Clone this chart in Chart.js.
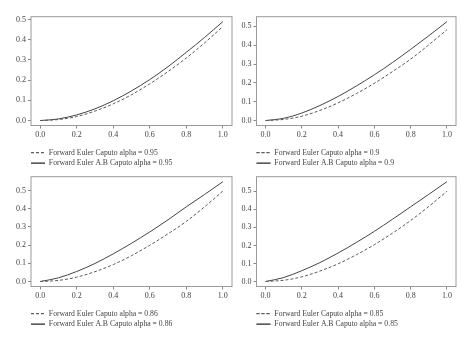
<!DOCTYPE html>
<html>
<head>
<meta charset="utf-8">
<script src="https://cdn.jsdelivr.net/npm/chart.js@4.4.1/dist/chart.umd.min.js"></script>
<style>
    html, body { margin: 0; padding: 0; background: #fff; }
    body { width: 474px; height: 345px; position: relative; overflow: hidden; }
    canvas { position: absolute; }
</style>
</head>
<body>
<canvas id="c1"></canvas>
<canvas id="c2"></canvas>
<canvas id="c3"></canvas>
<canvas id="c4"></canvas>
<script>
// Data (time steps 0.0 .. 1.0)
const xValues = [0.0, 0.1, 0.2, 0.3, 0.4, 0.5, 0.6, 0.7, 0.8, 0.9, 1.0];
const xTicks = [0.0, 0.2, 0.4, 0.6, 0.8, 1.0];
const yTicks = [0.0, 0.1, 0.2, 0.3, 0.4, 0.5];
const alphaLabels = ['0.95', '0.9', '0.86', '0.85'];

// Forward Euler Caputo (dashed)
const caputo95 = [0, 0.005, 0.020, 0.047, 0.083, 0.128, 0.182, 0.243, 0.310, 0.385, 0.466];
const caputo90 = [0, 0.006, 0.023, 0.054, 0.094, 0.143, 0.198, 0.260, 0.326, 0.402, 0.482];
const caputo86 = [0, 0.006, 0.024, 0.054, 0.093, 0.142, 0.199, 0.262, 0.330, 0.410, 0.497];
const caputo85 = [0, 0.007, 0.026, 0.058, 0.098, 0.148, 0.204, 0.268, 0.338, 0.416, 0.500];

// Forward Euler A.B Caputo (solid)
const abCaputo95 = [0, 0.008, 0.028, 0.058, 0.098, 0.147, 0.203, 0.267, 0.338, 0.412, 0.490];
const abCaputo90 = [0, 0.012, 0.040, 0.080, 0.128, 0.183, 0.243, 0.308, 0.378, 0.450, 0.525];
const abCaputo86 = [0, 0.020, 0.055, 0.099, 0.152, 0.210, 0.272, 0.339, 0.410, 0.478, 0.548];
const abCaputo85 = [0, 0.022, 0.060, 0.105, 0.158, 0.216, 0.278, 0.345, 0.414, 0.483, 0.553];

// Page layout: canvas rect and plot box, in page pixels
const panels = [
    { id: 'c1', x: 0,   y: 0,   w: 240, h: 172, box: [31, 16.7, 232, 125.5] },
    { id: 'c2', x: 226, y: 0,   w: 248, h: 172, box: [256.5, 16.7, 456, 125.5] },
    { id: 'c3', x: 0,   y: 172, w: 240, h: 173, box: [31, 176.7, 232, 286.5] },
    { id: 'c4', x: 226, y: 172, w: 248, h: 173, box: [256.5, 176.7, 456, 286.5] }
];

const X_AXIS_H = 15;
Chart.defaults.font.family = '"Liberation Serif", "Times New Roman", serif';
Chart.defaults.color = '#444';

// grey frame round the plot area
const framePlugin = {
    id: 'frame',
    afterDatasetsDraw(chart) {
        const { ctx, chartArea: a } = chart;
        ctx.save();
        ctx.strokeStyle = '#9a9a9a';
        ctx.lineWidth = 1;
        ctx.strokeRect(a.left, a.top, a.right - a.left, a.bottom - a.top);
        ctx.restore();
    }
};

// put the legend under the x axis, lined up with the plot box
const legendPlacer = {
    id: 'legendPlacer',
    beforeDraw(chart) {
        const lg = chart.legend;
        const a = chart.chartArea;
        const pad = lg.options.labels.padding;
        lg.left = a.left - pad;
        lg.right = lg.left + 230;
        lg.top = a.bottom + 20.5;
        lg.bottom = lg.top + 40;
    }
};

function makeChart(panel, alpha, caputo, abCaputo) {
    const canvas = document.getElementById(panel.id);
    canvas.width = panel.w;
    canvas.height = panel.h;
    canvas.style.left = panel.x + 'px';
    canvas.style.top = panel.y + 'px';

    const [bx0, by0, bx1, by1] = panel.box;
    const yAxisW = bx0 - panel.x;
    const yMax = Math.max(...abCaputo, ...caputo);

    new Chart(canvas, {
        type: 'line',
        data: {
            datasets: [
                {
                    label: 'Forward Euler Caputo alpha = ' + alpha,
                    data: xValues.map((x, i) => ({ x: x, y: caputo[i] })),
                    borderColor: '#5a5a5a',
                    backgroundColor: 'transparent',
                    borderWidth: 1,
                    borderDash: [3, 2],
                    pointRadius: 0,
                    cubicInterpolationMode: 'monotone'
                },
                {
                    label: 'Forward Euler A.B Caputo alpha = ' + alpha,
                    data: xValues.map((x, i) => ({ x: x, y: abCaputo[i] })),
                    borderColor: '#444',
                    backgroundColor: 'transparent',
                    borderWidth: 1,
                    pointRadius: 0,
                    cubicInterpolationMode: 'monotone'
                }
            ]
        },
        options: {
            responsive: false,
            animation: false,
            devicePixelRatio: 1,
            layout: {
                padding: {
                    left: 0,
                    top: by0 - panel.y,
                    right: panel.x + panel.w - bx1,
                    bottom: panel.y + panel.h - by1 - X_AXIS_H
                }
            },
            scales: {
                x: {
                    type: 'linear',
                    min: -0.05,
                    max: 1.05,
                    afterBuildTicks: s => { s.ticks = xTicks.map(v => ({ value: v })); },
                    afterFit: s => {
                        s.height = X_AXIS_H;
                        s.paddingLeft = s.paddingRight = s.paddingTop = s.paddingBottom = 0;
                    },
                    ticks: { font: { size: 8 }, padding: 2, maxRotation: 0, callback: v => v.toFixed(1) },
                    grid: { drawOnChartArea: false, drawTicks: true, tickLength: 3, color: '#888' },
                    border: { display: false }
                },
                y: {
                    min: -0.05 * yMax,
                    max: 1.05 * yMax,
                    afterBuildTicks: s => { s.ticks = yTicks.map(v => ({ value: v })); },
                    afterFit: s => {
                        s.width = yAxisW;
                        s.paddingLeft = s.paddingRight = s.paddingTop = s.paddingBottom = 0;
                    },
                    ticks: { font: { size: 8 }, padding: 2, callback: v => v.toFixed(1) },
                    grid: { drawOnChartArea: false, drawTicks: true, tickLength: 3, color: '#888' },
                    border: { display: false }
                }
            },
            plugins: {
                legend: {
                    position: 'chartArea',
                    align: 'start',
                    labels: {
                        boxWidth: 14,
                        boxHeight: 0,
                        padding: 2.8,
                        color: '#444',
                        font: { size: 7.7 }
                    }
                },
                tooltip: { enabled: false }
            }
        },
        plugins: [framePlugin, legendPlacer]
    });
}

document.addEventListener('DOMContentLoaded', () => {
    makeChart(panels[0], alphaLabels[0], caputo95, abCaputo95);
    makeChart(panels[1], alphaLabels[1], caputo90, abCaputo90);
    makeChart(panels[2], alphaLabels[2], caputo86, abCaputo86);
    makeChart(panels[3], alphaLabels[3], caputo85, abCaputo85);
});
</script>
</body>
</html>
